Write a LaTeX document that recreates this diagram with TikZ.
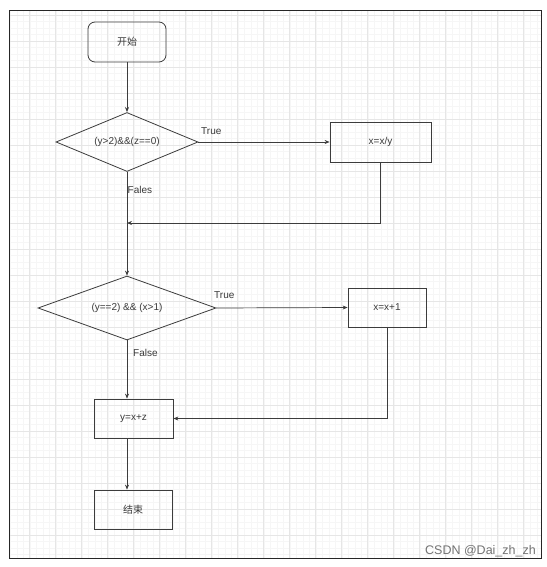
\documentclass[tikz,border=0pt]{standalone}
\usepackage{fontspec}
\setmainfont{Liberation Sans}
\newfontfamily\cjk{Noto Sans CJK SC}
\usetikzlibrary{shapes.geometric,arrows.meta}
\definecolor{linec}{HTML}{3C3C3C}
\definecolor{txtc}{HTML}{3A3A3A}
\definecolor{gridminor}{HTML}{F6F6F6}
\definecolor{gridmajor}{HTML}{E6E6E6}
\tikzset{
  base/.style={draw=linec, line width=0.8pt, text=txtc, font=\fontsize{10}{12}\selectfont, inner sep=0pt},
  procbox/.style={base, rectangle, minimum width=#1, minimum height=40pt},
  termbox/.style={base, rectangle, rounded corners=7pt, minimum width=78pt, minimum height=40pt},
  decbox/.style={base, diamond},
  conn/.style={draw=linec, line width=0.7pt, -{Stealth[length=5pt,width=4pt]}},
  lbl/.style={text=txtc, font=\fontsize{10}{12}\selectfont, inner sep=0pt, anchor=west}
}
\begin{document}
\begin{tikzpicture}[x=1pt,y=-1pt]
\useasboundingbox (0,0) rectangle (546,567);
\fill[white] (0,0) rectangle (546,567);
% grid
\begin{scope}
\clip (9,11) rectangle (541,558);
\foreach \i in {0,...,84} {
  \draw[gridminor, line width=0.4pt] ({3.7+6.5*\i},11) -- ({3.7+6.5*\i},558);
}
\foreach \i in {-3,...,85} {
  \draw[gridminor, line width=0.4pt] (9,{15+6.5*\i}) -- (541,{15+6.5*\i});
}
\foreach \i in {0,...,21} {
  \draw[gridmajor, line width=0.5pt] ({3.7+26*\i},11) -- ({3.7+26*\i},558);
}
\foreach \i in {-1,...,21} {
  \draw[gridmajor, line width=0.5pt] (9,{15+26*\i}) -- (541,{15+26*\i});
}
\end{scope}
\draw[black!85, line width=1pt] (9,11) rectangle (541,558);

% nodes
\node[termbox] (start) at (127,42) {\cjk 开始};
\node[decbox, aspect=2.407, minimum width=142pt, minimum height=59pt] (d1) at (127,142) {(y>2)\&\&(z==0)};
\node[procbox=101pt] (b1) at (380.5,142) {x=x/y};
\node[decbox, aspect=2.78, minimum width=178pt, minimum height=64pt] (d2) at (127,308) {(y==2) \&\& (x>1)};
\node[procbox=78pt, minimum height=39pt] (b2) at (387,307.5) {x=x+1};
\node[procbox=79pt, minimum height=39pt] (b3) at (133.5,418.5) {y=x+z};
\node[procbox=78pt, minimum height=39pt] (endn) at (133,509.5) {\cjk 结束};

\coordinate (m1) at (127,223);

% connectors
\draw[conn] (start.south) -- (d1.north);
\draw[conn] (d1.east) -- (b1.west);
\draw[draw=linec, line width=0.7pt] (d1.south) -- (m1);
\draw[conn] (m1) -- (d2.north);
\draw[conn] (b1.south) |- (m1);
\draw[conn] (d2.east) -- (b2.west);
\draw[conn] (d2.south) -- (b3.north -| d2.south);
\draw[conn] (b2.south) |- (b3.east);
\draw[conn] (b3.south -| d2.south) -- (endn.north -| d2.south);

% labels
\node[lbl] (t1) at (201,131) {True};
\node[lbl] (f1) at (127.5,190) {Fales};
\node[lbl] (t2) at (214,295) {True};
\node[lbl] (f2) at (133,353) {False};

% watermark
\node[text=black!55, font=\fontsize{12.5}{14}\selectfont, inner sep=0pt, anchor=base east] (wm) at (536,554) {CSDN @Dai\_zh\_zh};
\end{tikzpicture}
\end{document}
